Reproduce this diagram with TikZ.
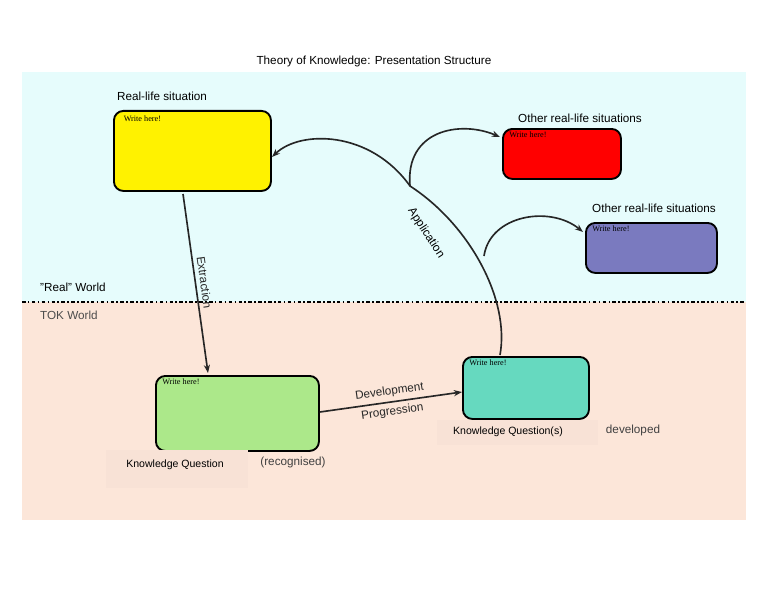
\documentclass[tikz,border=0pt]{standalone}
\usepackage{fontspec}
\setmainfont{Liberation Sans}
\newfontfamily\serifw{Liberation Serif}
\usetikzlibrary{arrows.meta}
\definecolor{skyband}{HTML}{E6FCFC}
\definecolor{peachband}{HTML}{FCE6D9}
\definecolor{lbl}{HTML}{F8E2D6}
\begin{document}
\begin{tikzpicture}[x=0.03cm, y=-0.03cm]

\tikzstyle{box}=[draw, line width=1.6pt, rounded corners=8pt, anchor=north west, inner sep=0pt];
\tikzstyle{w}=[anchor=north west, font=\serifw\scriptsize, inner sep=1pt];
\tikzstyle{t}=[font=\normalsize];
\tikzstyle{e}=[-{Stealth[length=7pt]}, line width=1.4pt, black!85];

\useasboundingbox (0,0) rectangle (768,594);
\fill[skyband] (22,72) rectangle (746,302);
\fill[peachband] (22,302) rectangle (746,520);
\node[t] (title) at (374,61) {Theory of Knowledge: Presentation Structure};

\coordinate (wl) at (22,302);
\coordinate (wr) at (746,302);
\draw[line width=1.4pt, dash dot] (wl) -- (wr);
\node[t, anchor=west] (real) at (36,287) {"Real" World};
\node[t, anchor=west, black!70] (tok) at (36,315) {TOK World};

% boxes
\node[box, fill=yellow, minimum width=157*0.03cm, minimum height=80*0.03cm] (rls) at (113,110) {};
\node[w] at (rls.north west) [xshift=8pt, yshift=-4pt] {Write here!};
\node[t, anchor=south west] (rlsl) at (113,105) {Real-life situation};

\node[box, fill=red, minimum width=118*0.03cm, minimum height=50*0.03cm] (red) at (502,128) {};
\node[w] at (red.north west) [xshift=5pt, yshift=-2pt] {Write here!};
\node[t] (redl) at (580,118) {Other real-life situations};

\node[box, fill={rgb,255:red,122;green,122;blue,191}, minimum width=131*0.03cm, minimum height=50*0.03cm] (pur) at (585,222) {};
\node[w] at (pur.north west) [xshift=5pt, yshift=-2pt] {Write here!};
\node[t] (purl) at (654,208) {Other real-life situations};

\node[box, fill={rgb,255:red,172;green,232;blue,138}, minimum width=163*0.03cm, minimum height=75*0.03cm] (kq) at (155,375) {};
\node[w] at (kq.north west) [xshift=5pt, yshift=-2pt] {Write here!};
\fill[lbl] (106,450) rectangle (248,488);
\node[font=\small] (kql) at (175,465) {Knowledge Question};
\node[t, black!75] (rec) at (293,462) {(recognised)};

\node[box, fill={rgb,255:red,102;green,217;blue,191}, minimum width=126*0.03cm, minimum height=62*0.03cm] (kqd) at (462,356) {};
\node[w] at (kqd.north west) [xshift=5pt, yshift=-2pt] {Write here!};
\fill[lbl] (437,420) rectangle (598,445);
\node[font=\small] (kqdl) at (508,432) {Knowledge Question(s)};
\node[t, black!75] (dev) at (633,430) {developed};

% arrows
\draw[e] (183,194) -- node[sloped, above, t] {Extraction} (208,373);
\draw[e] (kq.east |- 0,412) -- node[sloped, above, t] {Development} node[sloped, below, t] {Progression} (kqd.west |- 0,392);

\coordinate (a0) at (500,355);
\coordinate (a1) at (410,186);
\coordinate (a2) at (484,256);
\draw[e] (a0) .. controls (510,300) and (470,225) .. (a1)
  .. controls (370,130) and (300,130) .. (272,157);
\node[t, rotate=-57] (app) at (426,233) {Application};
\draw[e] (a1) .. controls (405,130) and (460,120) .. (500,137);
\draw[e] (a2) .. controls (490,215) and (550,205) .. (583,232);
\end{tikzpicture}
\end{document}
